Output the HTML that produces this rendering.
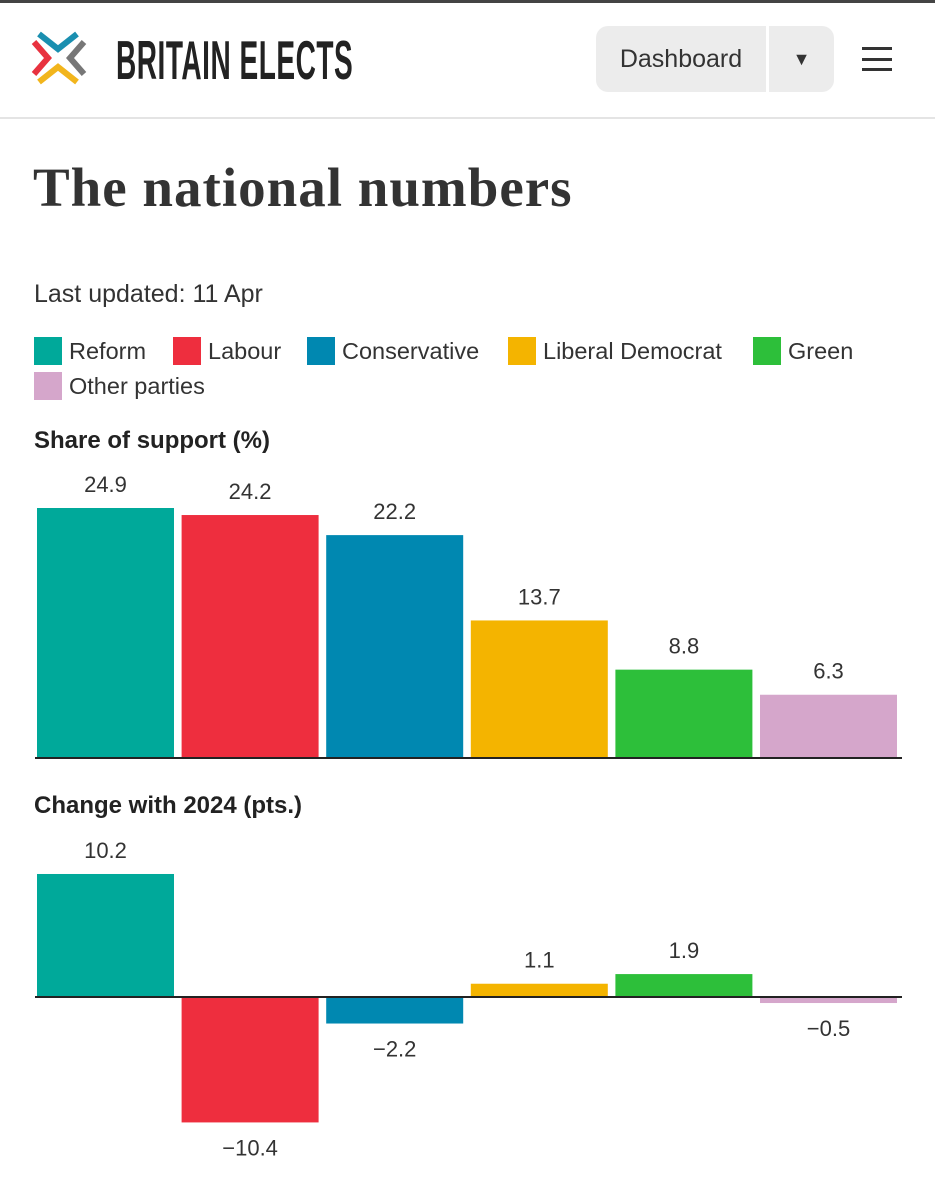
<!DOCTYPE html>
<html><head><meta charset="utf-8"><style>
body{margin:0;width:935px;height:1200px;background:#fff;font-family:"Liberation Sans",sans-serif;color:#222;overflow:hidden;position:relative}
.abs{position:absolute}
.leg{position:absolute;font-size:23.5px;color:#333;display:flex;align-items:center}
.leg i{display:inline-block;width:28px;height:28px;margin-right:7px}
</style></head><body>
<div class="abs" style="left:0;top:0;width:935px;height:3px;background:#444"></div>
<svg class="abs" style="left:30px;top:30px" width="58" height="56" viewBox="0 0 58 56">
<polyline points="9,4 28,19 47,4" fill="none" stroke="#1a8fb0" stroke-width="6"/>
<polyline points="4,12 18,28 4,44" fill="none" stroke="#e8323f" stroke-width="6"/>
<polyline points="54,12 40,28 54,44" fill="none" stroke="#777" stroke-width="6"/>
<polyline points="9,52 28,37 47,52" fill="none" stroke="#f2b51c" stroke-width="6"/>
</svg>
<div class="abs" style="left:116px;top:28px;font-size:55px;font-weight:bold;color:#222;transform:scaleX(0.51);transform-origin:left top;letter-spacing:1px;white-space:nowrap">BRITAIN ELECTS</div>
<div class="abs" style="left:596px;top:26px;width:170px;height:66px;background:#ececec;border-radius:12px 0 0 12px;font-size:25px;line-height:66px;text-align:center;color:#333">Dashboard</div>
<div class="abs" style="left:769px;top:26px;width:65px;height:66px;background:#ececec;border-radius:0 12px 12px 0;font-size:18px;line-height:66px;text-align:center;color:#333">▼</div>
<div class="abs" style="left:862px;top:47px;width:30px;height:24px">
<div style="height:3px;background:#333;margin-bottom:7.5px"></div><div style="height:3px;background:#333;margin-bottom:7.5px"></div><div style="height:3px;background:#333"></div></div>
<div class="abs" style="left:0;top:117px;width:935px;height:2px;background:#e4e4e4"></div>
<div class="abs" style="left:33px;top:156px;font-family:'Liberation Serif',serif;font-weight:bold;font-size:55px;letter-spacing:1px;color:#333;white-space:nowrap">The national numbers</div>
<div class="abs" style="left:34px;top:280px;font-size:25px;color:#333">Last updated: 11 Apr</div>
<div class="leg" style="left:34px;top:337px"><i style="background:#00a99a"></i>Reform</div>
<div class="leg" style="left:173px;top:337px"><i style="background:#ee2e3e"></i>Labour</div>
<div class="leg" style="left:307px;top:337px"><i style="background:#0088b1"></i>Conservative</div>
<div class="leg" style="left:508px;top:337px"><i style="background:#f4b400"></i>Liberal Democrat</div>
<div class="leg" style="left:753px;top:337px"><i style="background:#2dbf3a"></i>Green</div>
<div class="leg" style="left:34px;top:372px"><i style="background:#d5a6cb"></i>Other parties</div>
<div class="abs" style="left:34px;top:427px;font-size:24px;font-weight:bold;color:#222">Share of support (%)</div>
<div class="abs" style="left:34px;top:792px;font-size:24px;font-weight:bold;color:#222">Change with 2024 (pts.)</div>
<svg id="chart" class="abs" style="left:0;top:0" width="935" height="1200"></svg>
<script>
const parties=["Reform","Labour","Conservative","Liberal Democrat","Green","Other parties"];
const colors=["#00a99a","#ee2e3e","#0088b1","#f4b400","#2dbf3a","#d5a6cb"];
const shares=[24.9,24.2,22.2,13.7,8.8,6.3];
const changes=[10.2,-10.4,-2.2,1.1,1.9,-0.5];
const shareLabels=["24.9","24.2","22.2","13.7","8.8","6.3"];
const changeLabels=["10.2","\u221210.4","\u22122.2","1.1","1.9","\u22120.5"];
const svg=document.getElementById('chart');const NS="http://www.w3.org/2000/svg";
function xPos(i){return 37+i*144.6;}
const bw=137;
function y1(v){return 758-v*10.04;}
function y2(v){return 997-v*12.06;}
function mk(tag,attrs){const e=document.createElementNS(NS,tag);for(const k in attrs)e.setAttribute(k,attrs[k]);svg.appendChild(e);return e;}
shares.forEach((v,i)=>{
 const r=mk('rect',{x:xPos(i),y:y1(v),width:bw,height:758-y1(v),fill:colors[i]});
 
 
 const t=mk('text',{x:xPos(i)+bw/2,y:y1(v)-16,'text-anchor':'middle','font-size':22,fill:'#333','font-family':'Liberation Sans'});
 t.textContent=shareLabels[i];
 
 
});
const a1=mk('line',{x1:35,x2:902,y1:758,y2:758,stroke:'#222','stroke-width':2});


changes.forEach((v,i)=>{
 const top=Math.min(y2(v),y2(0)),h=Math.abs(y2(v)-y2(0));
 const r=mk('rect',{x:xPos(i),y:top,width:bw,height:h,fill:colors[i]});
 
 
 const ty=v>=0?y2(v)-16:y2(v)+33;
 const t=mk('text',{x:xPos(i)+bw/2,y:ty,'text-anchor':'middle','font-size':22,fill:'#333','font-family':'Liberation Sans'});
 t.textContent=changeLabels[i];
 
 
});
const a2=mk('line',{x1:35,x2:902,y1:997,y2:997,stroke:'#222','stroke-width':2});


</script>
</body></html>
